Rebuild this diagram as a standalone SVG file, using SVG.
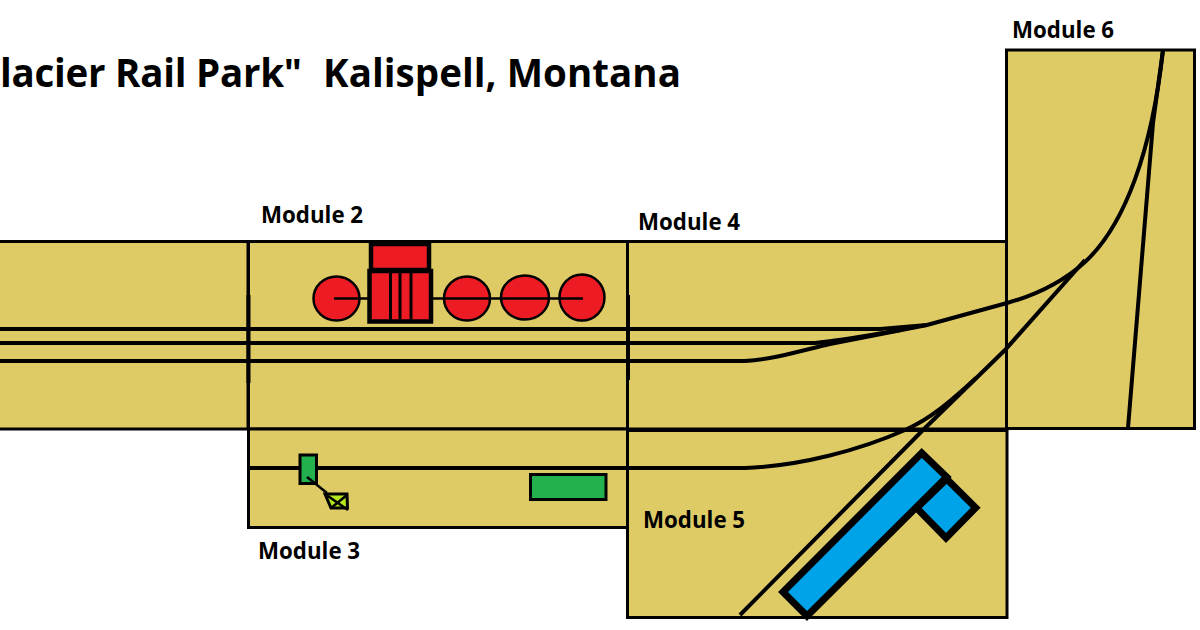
<svg xmlns="http://www.w3.org/2000/svg" width="1200" height="630" viewBox="0 0 1200 630">
<style>
.board{fill:#dfcb66;stroke:#000;stroke-width:3}
.t{fill:none;stroke:#000;stroke-width:4}
.rule{fill:none;stroke:#000;stroke-width:4}
.thin{fill:none;stroke:#000;stroke-width:2.5}
.red{fill:#ed1c24;stroke:#000;stroke-width:2.5}
.redb{fill:#ed1c24;stroke:#000;stroke-width:4.500}
.blue{fill:#00a2e8;stroke:#000;stroke-width:7;stroke-linejoin:miter}
.grn{fill:#22b14c;stroke:#000;stroke-width:3}
.lbl{font-family:"Open Sans","Noto Sans",sans-serif;font-weight:700;font-size:22.300px;fill:#000}
.ttl{font-family:"Open Sans","Noto Sans",sans-serif;font-weight:700;font-size:38.500px;fill:#000}
</style>
<rect width="1200" height="630" fill="#fff"/>
<g id="boards">
<rect id="module-1" class="board" x="-5" y="241.500" width="253" height="187.500"/>
<rect id="module-2" class="board" x="248.500" y="241.500" width="379" height="187.500"/>
<rect id="module-3" class="board" x="248.500" y="429" width="379" height="98.500"/>
<rect id="module-4" class="board" x="627.500" y="241.500" width="379.500" height="187.500"/>
<rect id="module-5" class="board" x="627.500" y="429.500" width="379.500" height="188"/>
<rect id="module-6" class="board" x="1006.500" y="50" width="188" height="378.500"/>
</g>
<g id="connectors">
<path class="t" d="M-5 329H880L927 325"/>
<path class="t" d="M-5 343H815C845 340 870 335 900 330"/>
<path class="t" d="M-5 361H745C775 359 800 351 830 344L927 325L1007 303C1040 294 1065 280 1085 262C1125 225 1152 150 1163 50"/>
<path class="t" d="M247 468H745C800 466 860 450 905 430C930 419 950 402 976 378"/>
<path class="t" d="M740 615L923 430L1005 350L1085 260"/>
<path class="t" d="M1128 428L1153 123L1163 50"/>
<path class="rule" d="M248.500 295V383M628 295V380M628 430H1007"/>
</g>
<g id="station">
<ellipse class="red" cx="336.500" cy="298.500" rx="23" ry="22"/>
<ellipse class="red" cx="467" cy="298.500" rx="23" ry="22"/>
<ellipse class="red" cx="525" cy="297.500" rx="24" ry="22"/>
<ellipse class="red" cx="582" cy="297.500" rx="22.500" ry="23"/>
<path class="thin" d="M334 298.500H368M433 298.500H583"/>
<rect class="redb" x="371" y="244" width="58" height="26"/>
<rect class="redb" x="369.500" y="271" width="61.500" height="50.500"/>
<path fill="none" stroke="#000" stroke-width="3" d="M390.500 272V320M400 272V320M411 272V320"/>
</g>
<g id="green-buildings">
<rect class="grn" x="300" y="455" width="16.500" height="28.500"/>
<rect class="grn" x="530.500" y="474.500" width="75.500" height="25"/>
<path fill="#b5e61d" stroke="#000" stroke-width="3" d="M325 494L347 494L347.500 508L331 508Z"/>
<path fill="none" stroke="#000" stroke-width="2.500" d="M307 477L327 493M325 494L348 510M347 495L331 508"/>
</g>
<g id="blue-building">
<path class="blue" d="M921.700 453L783 592L807 616L946.700 477Z"/>
<path class="blue" d="M946.700 479L975.700 507.700L946 538L916.700 508Z"/>
</g>
<g id="labels">
<text class="ttl" x="0" y="87" textLength="302" lengthAdjust="spacing">lacier Rail Park"</text>
<text class="ttl" x="323" y="87" textLength="358" lengthAdjust="spacing">Kalispell, Montana</text>
<text class="lbl" x="1012" y="38">Module 6</text>
<text class="lbl" x="261" y="223">Module 2</text>
<text class="lbl" x="638" y="230">Module 4</text>
<text class="lbl" x="643" y="528">Module 5</text>
<text class="lbl" x="258" y="559">Module 3</text>
</g>
</svg>
